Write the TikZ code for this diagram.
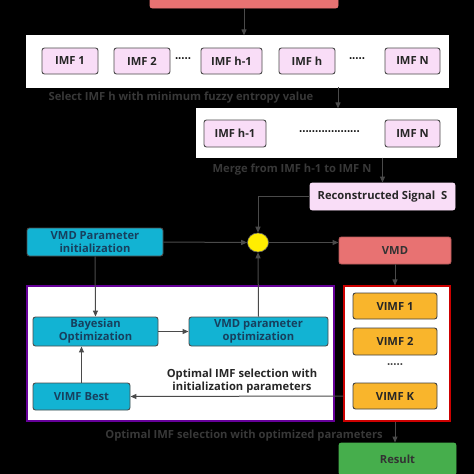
\documentclass[tikz,border=0pt]{standalone}
\usepackage{fontspec}
\setmainfont{Open Sans}
\usetikzlibrary{arrows.meta,shapes.geometric}
\definecolor{pinkfill}{HTML}{F9DDF7}
\definecolor{cyanfill}{HTML}{12B3D3}
\definecolor{redfill}{HTML}{E87272}
\definecolor{orangefill}{HTML}{F9B52C}
\definecolor{greenfill}{HTML}{46AE4C}
\definecolor{navytext}{HTML}{17405E}
\definecolor{lineg}{HTML}{4A4A4A}
\definecolor{dimtext}{HTML}{383838}
\begin{document}
\begin{tikzpicture}[x=1pt, y=-1pt,
    every node/.style={font=\bfseries\fontsize{11.2}{13}\selectfont, inner sep=0pt, align=center},
    box/.style={draw=#1, line width=0.9pt, rounded corners=2.5pt},
    imf/.style={box=lineg, fill=pinkfill, text=black!85, minimum height=26pt},
    cyanbox/.style={box=black!70, fill=cyanfill, text=navytext},
    vimf/.style={box=black!75, fill=orangefill, text=black!85, minimum width=84pt, minimum height=26pt},
    panel/.style={fill=white, draw=#1, line width=1.2pt},
    dimlabel/.style={text=dimtext},
    arr/.style={-{Triangle[length=6pt,width=5pt]}, draw=lineg, line width=1pt}]
            \fill[black] (0,0) rectangle (474,474);
            \useasboundingbox (0,0) rectangle (474,474);

            \node[box=redfill, fill=redfill, minimum width=188pt, minimum height=18pt] (src) at (244,-1) {};

            \node[panel=white, minimum width=421pt, minimum height=51pt] (row) at (237.5,61.5) {};
            \node[imf, minimum width=56pt] (imf1) at (70,61) {IMF 1};
            \node[imf, minimum width=56pt] (imf2) at (142,61) {IMF 2};
            \node (dotsa) at (183,60) {\textperiodcentered\textperiodcentered\textperiodcentered\textperiodcentered\textperiodcentered};
            \node[imf, minimum width=61pt] (imfhm) at (231.5,61) {IMF h-1};
            \node[imf, minimum width=56pt] (imfh) at (307,61) {IMF h};
            \node (dotsb) at (357,60) {\textperiodcentered\textperiodcentered\textperiodcentered\textperiodcentered\textperiodcentered};
            \node[imf, minimum width=55pt] (imfn) at (412.5,61) {IMF N};
            \node[dimlabel] (select) at (181,98) {Select IMF h with minimum fuzzy entropy value};
            \coordinate (pick) at (338,87);

            \node[panel=white, minimum width=259pt, minimum height=48pt] (merged) at (326.5,133) {};
            \node[imf, minimum width=62pt, minimum height=27pt] (mhm) at (235,133.5) {IMF h-1};
            \node (dotsc) at (329.5,133) {\textperiodcentered\textperiodcentered\textperiodcentered\textperiodcentered\textperiodcentered\textperiodcentered\textperiodcentered\textperiodcentered\textperiodcentered\textperiodcentered\textperiodcentered\textperiodcentered\textperiodcentered\textperiodcentered\textperiodcentered\textperiodcentered\textperiodcentered\textperiodcentered\textperiodcentered};
            \node[imf, minimum width=55pt, minimum height=27pt] (mn) at (412.5,133.5) {IMF N};
            \node[dimlabel] (mergetxt) at (292,170) {Merge from IMF h-1 to IMF N};

            \node[box=pinkfill, fill=pinkfill, text=black!85, minimum width=145pt, minimum height=27pt] (recon) at (382.5,196.5) {Reconstructed Signal~~S};

            \node[draw=black!60, fill=yellow!95!orange, ellipse, minimum width=21pt, minimum height=19pt, line width=0.6pt] (join) at (258,242.5) {};
            \node[cyanbox, minimum width=136pt, minimum height=28pt] (init) at (95,242) {VMD Parameter\\initialization};
            \node[box=redfill!80!black, fill=redfill, text=black!80, minimum width=112pt, minimum height=27pt] (vmd) at (395,250.5) {VMD};

            \node[panel=violet!80!blue, minimum width=307pt, minimum height=135pt] (optpanel) at (180.5,353.5) {};
            \node[panel=red!80!black, minimum width=106pt, minimum height=135pt] (vimfpanel) at (397,353.5) {};

            \node[cyanbox, minimum width=125pt, minimum height=29pt] (bayes) at (95.5,331.5) {Bayesian\\Optimization};
            \node[cyanbox, minimum width=139pt, minimum height=29pt] (vmdopt) at (258.5,331.5) {VMD parameter\\optimization};
            \node[cyanbox, minimum width=97pt, minimum height=27pt] (best) at (81.5,396.5) {VIMF Best};
            \node[text=black!85] (inittxt) at (242,381) {Optimal IMF selection with\\initialization parameters};

            \node[vimf] (vimf1) at (395,306) {VIMF 1};
            \node[vimf, minimum height=27pt] (vimf2) at (395,341.5) {VIMF 2};
            \node[text=black!80] (dotsd) at (395,366) {\textperiodcentered\textperiodcentered\textperiodcentered\textperiodcentered\textperiodcentered};
            \node[vimf] (vimfk) at (395,396) {VIMF K};

            \node[dimlabel] (opttxt) at (244,436) {Optimal IMF selection with optimized parameters};
            \node[box=greenfill, fill=greenfill, text=black!80, minimum width=117pt, minimum height=32pt] (result) at (397.5,459) {Result};

            \draw[arr] (src.south) -- (src.south |- row.north);
            \draw[arr] (pick) -- (pick |- merged.north);
            \draw[arr] (merged.south -| recon.north) -- (recon.north);
            \draw[arr] (recon.west) -| (join.north);
            \draw[arr] (init.east) -- (join.west);
            \draw[arr] (join.east) -- (join.east -| vmd.west);
            \draw[arr] (vmd.south) -- (vmd.south |- vimfpanel.north);
            \draw[arr] (init.south) -- (bayes.north);
            \draw[arr] (bayes.east) -- (vmdopt.west);
            \draw[arr] (vmdopt.north) -- (join.south);
            \draw[arr] (best.north) -- (best.north |- bayes.south);
            \draw[arr] (vimfpanel.west |- vimfk.west) -- (best.east);
            \draw[arr] (vimfpanel.south -| vmd.south) -- (vmd.south |- result.north);
        \end{tikzpicture}
\end{document}
